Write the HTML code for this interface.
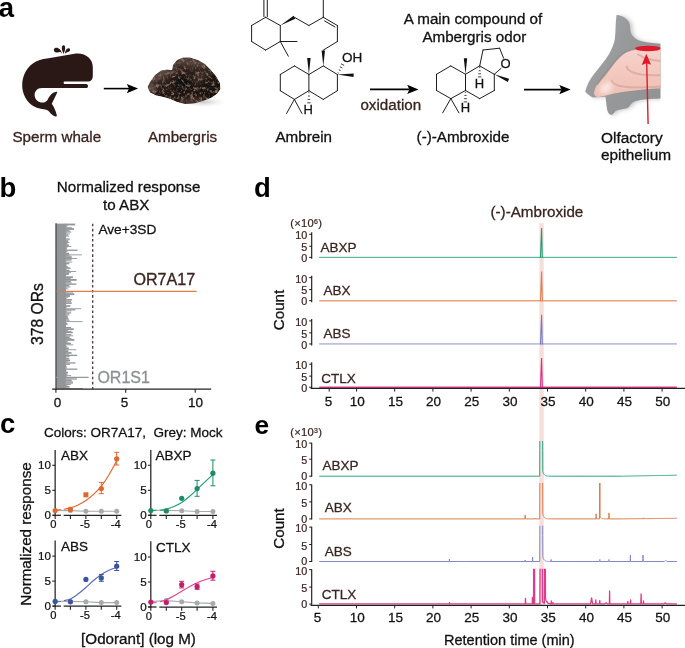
<!DOCTYPE html>
<html><head><meta charset="utf-8"><title>Figure</title>
<style>
html,body{margin:0;padding:0;background:#fff;}
body{width:685px;height:648px;overflow:hidden;}
svg{display:block;font-family:"Liberation Sans", sans-serif;}
svg text{white-space:pre;}
</style></head><body>
<svg width="685" height="648" viewBox="0 0 685 648">
<rect width="685" height="648" fill="#fff"/>
<text x="-1.2" y="16.9" font-size="27.5" fill="#000" stroke="#000" stroke-width="0" text-anchor="start" font-weight="bold" >a</text>
<text x="-0.6" y="196.6" font-size="27.5" fill="#000" stroke="#000" stroke-width="0" text-anchor="start" font-weight="bold" >b</text>
<text x="0" y="432.8" font-size="27.5" fill="#000" stroke="#000" stroke-width="0" text-anchor="start" font-weight="bold" >c</text>
<text x="253.9" y="196.6" font-size="27.5" fill="#000" stroke="#000" stroke-width="0" text-anchor="start" font-weight="bold" >d</text>
<text x="254.4" y="433.7" font-size="26.3" fill="#000" stroke="#000" stroke-width="0" text-anchor="start" font-weight="bold" >e</text>
<g fill="#2a1816">
<path d="M22.2,85 C22.2,76 27,66 36,61.5 C41,59 46,58.6 50,58 L74.5,53.8 C84,52 92.8,58 92.8,67 L92.8,76 C92.8,79.5 91,81.5 87.5,81.5 L64.5,81.5 C63.3,81.5 63.3,83.9 64.5,83.9 L86,83.9 C88.8,83.9 88.8,88 86,88 L42,88 C37,88 34.6,91.5 34.6,95 C34.6,99.5 38.5,102.6 42.5,102.6 C45,102.6 46.5,101.5 47.5,100 C49.5,96.5 51.5,92.5 56.4,91.8 C57.2,91.7 57.3,92.3 57,93 C55.5,96.5 53.5,100 51.8,103.7 C54,107 56,111 56.8,115.2 C57,116.3 56.2,116.8 55.2,116.4 C51.5,115 50,112.5 48,110.5 C46.5,109.6 44.5,109.3 42,109 C30,107.5 22.2,97 22.2,85 Z"/>
<path d="M63.6,54 C62.8,51.5 61.3,49.5 61.9,47 C62.4,44.9 64.3,44.5 65,46.5 C65.8,49 64.4,51.5 63.6,54 Z"/>
<path d="M61.9,54 C61,51.6 60,51.6 57.5,52.4 C55,53.1 53.1,51 54,49.1 C55,47.2 58,47.2 59.8,49.3 C61.2,50.8 61.7,52 61.9,54 Z"/>
<path d="M64.9,54 C64.9,51.8 65.6,50 66.8,48.9 C68.2,47.6 70.3,48.2 70.1,50 C69.9,51.7 68,52 66.8,52.4 C65.8,52.7 65.3,53.1 64.9,54 Z"/>
</g>
<text x="56.8" y="142.1" font-size="15.2" fill="#3a2420" stroke="#3a2420" stroke-width="0.3" text-anchor="middle" font-weight="normal" >Sperm whale</text>
<line x1="103.8" y1="88.6" x2="129.3" y2="88.6" stroke="#000" stroke-width="1.6" />
<path d="M138.1,88.6 L126.8,84.0 L129.0,88.6 L126.8,93.19999999999999 Z" fill="#000"/>
<defs>
<filter id="rk" x="-5%" y="-5%" width="110%" height="110%" color-interpolation-filters="sRGB">
<feTurbulence type="fractalNoise" baseFrequency="0.32" numOctaves="3" seed="7" result="n"/>
<feColorMatrix in="n" type="matrix" values="0 0 0 0 0.56  0 0 0 0 0.46  0 0 0 0 0.40  3.4 0 0 0 -1.65" result="c"/>
<feComposite in="c" in2="SourceGraphic" operator="in" result="cc"/>
<feMerge><feMergeNode in="SourceGraphic"/><feMergeNode in="cc"/></feMerge>
<feGaussianBlur stdDeviation="0.45"/>
</filter>
<radialGradient id="rkg" cx="0.42" cy="0.38" r="0.7">
<stop offset="0" stop-color="#33251f"/><stop offset="0.55" stop-color="#231814"/><stop offset="1" stop-color="#140d0b"/>
</radialGradient>
<filter id="bl4" x="-30%" y="-30%" width="160%" height="160%"><feGaussianBlur stdDeviation="1.0"/></filter><filter id="bl3" x="-30%" y="-30%" width="160%" height="160%"><feGaussianBlur stdDeviation="2.2"/></filter><radialGradient id="rks" cx="0.5" cy="0.5" r="0.5"><stop offset="0" stop-color="#999" stop-opacity="0.55"/><stop offset="1" stop-color="#ccc" stop-opacity="0"/></radialGradient>
</defs>
<ellipse cx="203" cy="102" rx="22" ry="5" fill="url(#rks)"/>
<clipPath id="rkc"><polygon points="147.5,87 150,82 155,75 161,70.5 167,69.5 172,70 173,65 177,60 183,57.5 190,57.5 198,60 205,64 211,70 216,76 220,83 220.5,89 217,94 211,98 203,101 194,103.5 185,104 177,102 170,99 163,97 156,95.5 150,92.5"/></clipPath>
<g filter="url(#rk)"><g clip-path="url(#rkc)">
<polygon points="147.5,87 150,82 155,75 161,70.5 167,69.5 172,70 173,65 177,60 183,57.5 190,57.5 198,60 205,64 211,70 216,76 220,83 220.5,89 217,94 211,98 203,101 194,103.5 185,104 177,102 170,99 163,97 156,95.5 150,92.5" fill="url(#rkg)"/>
<g filter="url(#bl3)">
<ellipse cx="160" cy="76" rx="11" ry="4.5" fill="#6e564b" opacity="0.55" transform="rotate(-25 160 76)"/>
<ellipse cx="190" cy="63" rx="15" ry="5" fill="#6a5449" opacity="0.5" transform="rotate(12 190 63)"/>
<ellipse cx="152" cy="89" rx="5" ry="4" fill="#8a756a" opacity="0.6"/>
<ellipse cx="192" cy="101" rx="16" ry="2.5" fill="#5c463c" opacity="0.8" transform="rotate(-6 192 101)"/>
<path d="M148.5,90 L149,86 L151,81 L156,75.5 L162,71.5 L168,70.5 L173,71 L174,66 L178,61 L184,58.5 L190,58.5 L198,61 L205,65 L211,71" fill="none" stroke="#9a857a" stroke-width="2.2" opacity="0.6" filter="url(#bl4)"/>
<ellipse cx="203" cy="78" rx="9" ry="6" fill="#5d483f" opacity="0.35"/>
<ellipse cx="183" cy="83" rx="11" ry="8" fill="#0e0908" opacity="0.85"/>
<ellipse cx="209" cy="85" rx="9" ry="9" fill="#140d0c" opacity="0.6"/>
</g></g></g>
<text x="182.5" y="141.6" font-size="15.2" fill="#3a2420" stroke="#3a2420" stroke-width="0.3" text-anchor="middle" font-weight="normal" >Ambergris</text>
<line x1="265.6" y1="17.3" x2="280.3" y2="25.5" stroke="#111" stroke-width="0.95" stroke-linecap="round"/>
<line x1="280.3" y1="25.5" x2="280.3" y2="41.5" stroke="#111" stroke-width="0.95" stroke-linecap="round"/>
<line x1="280.3" y1="41.5" x2="265.6" y2="50.1" stroke="#111" stroke-width="0.95" stroke-linecap="round"/>
<line x1="265.6" y1="50.1" x2="251.6" y2="41.5" stroke="#111" stroke-width="0.95" stroke-linecap="round"/>
<line x1="251.6" y1="41.5" x2="251.6" y2="25.5" stroke="#111" stroke-width="0.95" stroke-linecap="round"/>
<line x1="251.6" y1="25.5" x2="265.6" y2="17.3" stroke="#111" stroke-width="0.95" stroke-linecap="round"/>
<line x1="263.9" y1="16.6" x2="263.9" y2="0" stroke="#111" stroke-width="0.95" stroke-linecap="round"/>
<line x1="267.3" y1="16.6" x2="267.3" y2="0" stroke="#111" stroke-width="0.95" stroke-linecap="round"/>
<line x1="280.3" y1="41.5" x2="297" y2="41.5" stroke="#111" stroke-width="0.95" stroke-linecap="round"/>
<line x1="280.3" y1="41.5" x2="288.3" y2="56.2" stroke="#111" stroke-width="0.95" stroke-linecap="round"/>
<path d="M280.3,25.5 L295.25,18.77 L293.55,15.83 Z" fill="#111"/>
<line x1="294.4" y1="17.3" x2="308.9" y2="25.5" stroke="#111" stroke-width="0.95" stroke-linecap="round"/>
<line x1="308.9" y1="25.5" x2="323.3" y2="17.3" stroke="#111" stroke-width="0.95" stroke-linecap="round"/>
<line x1="323.3" y1="17.3" x2="337.4" y2="25.5" stroke="#111" stroke-width="0.95" stroke-linecap="round"/>
<line x1="337.4" y1="25.5" x2="337.4" y2="41.5" stroke="#111" stroke-width="0.95" stroke-linecap="round"/>
<line x1="337.4" y1="41.5" x2="323.3" y2="50.1" stroke="#111" stroke-width="0.95" stroke-linecap="round"/>
<line x1="323.3" y1="17.3" x2="323.3" y2="0" stroke="#111" stroke-width="0.95" stroke-linecap="round"/>
<line x1="324.6" y1="20.9" x2="335.0" y2="27.0" stroke="#111" stroke-width="0.95" stroke-linecap="round"/>
<path d="M323.3,65.9 L325.00,50.60 L321.60,50.60 Z" fill="#111"/>
<line x1="323.3" y1="65.9" x2="337.4" y2="74.5" stroke="#111" stroke-width="0.95" stroke-linecap="round"/>
<line x1="337.4" y1="74.5" x2="337.4" y2="90.7" stroke="#111" stroke-width="0.95" stroke-linecap="round"/>
<line x1="337.4" y1="90.7" x2="323.3" y2="99.4" stroke="#111" stroke-width="0.95" stroke-linecap="round"/>
<line x1="323.3" y1="99.4" x2="308.9" y2="90.7" stroke="#111" stroke-width="0.95" stroke-linecap="round"/>
<line x1="308.9" y1="90.7" x2="308.9" y2="74.5" stroke="#111" stroke-width="0.95" stroke-linecap="round"/>
<line x1="308.9" y1="74.5" x2="323.3" y2="65.9" stroke="#111" stroke-width="0.95" stroke-linecap="round"/>
<line x1="308.9" y1="74.5" x2="294.4" y2="65.9" stroke="#111" stroke-width="0.95" stroke-linecap="round"/>
<line x1="294.4" y1="65.9" x2="280.3" y2="74.5" stroke="#111" stroke-width="0.95" stroke-linecap="round"/>
<line x1="280.3" y1="74.5" x2="280.3" y2="90.7" stroke="#111" stroke-width="0.95" stroke-linecap="round"/>
<line x1="280.3" y1="90.7" x2="294.4" y2="99.4" stroke="#111" stroke-width="0.95" stroke-linecap="round"/>
<line x1="294.4" y1="99.4" x2="308.9" y2="90.7" stroke="#111" stroke-width="0.95" stroke-linecap="round"/>
<path d="M308.9,74.5 L310.60,57.90 L307.20,57.90 Z" fill="#111"/>
<line x1="337.72" y1="72.65" x2="338.74" y2="73.18" stroke="#111" stroke-width="0.8" />
<line x1="338.83" y1="69.69" x2="340.54" y2="70.59" stroke="#111" stroke-width="0.8" />
<line x1="339.94" y1="66.74" x2="342.35" y2="68.0" stroke="#111" stroke-width="0.8" />
<line x1="341.05" y1="63.79" x2="344.15" y2="65.41" stroke="#111" stroke-width="0.8" />
<text x="342.0" y="62.0" font-size="13.5" fill="#111" stroke="#111" stroke-width="0.27" text-anchor="start" font-weight="normal" >OH</text>
<path d="M337.4,74.5 L353.53,76.90 L353.67,73.50 Z" fill="#111"/>
<line x1="309.47" y1="92.64" x2="308.33" y2="92.64" stroke="#111" stroke-width="0.8" />
<line x1="309.87" y1="96.02" x2="307.93" y2="96.02" stroke="#111" stroke-width="0.8" />
<line x1="310.26" y1="99.41" x2="307.54" y2="99.41" stroke="#111" stroke-width="0.8" />
<line x1="310.65" y1="102.8" x2="307.15" y2="102.8" stroke="#111" stroke-width="0.8" />
<text x="308.3" y="114" font-size="13" fill="#111" stroke="#111" stroke-width="0.26" text-anchor="middle" font-weight="normal" >H</text>
<line x1="294.4" y1="99.4" x2="286.6" y2="113.4" stroke="#111" stroke-width="0.95" stroke-linecap="round"/>
<line x1="294.4" y1="99.4" x2="301.9" y2="113.4" stroke="#111" stroke-width="0.95" stroke-linecap="round"/>
<text x="303.7" y="141.6" font-size="15.2" fill="#111" stroke="#111" stroke-width="0.3" text-anchor="middle" font-weight="normal" >Ambrein</text>
<line x1="370" y1="89.4" x2="409.7" y2="89.4" stroke="#000" stroke-width="1.6" />
<path d="M418.5,89.4 L407.2,84.80000000000001 L409.4,89.4 L407.2,94.0 Z" fill="#000"/>
<text x="390.8" y="110.4" font-size="15.2" fill="#3a2420" stroke="#3a2420" stroke-width="0.3" text-anchor="middle" font-weight="normal" >oxidation</text>
<text x="473" y="24" font-size="15.2" fill="#111" stroke="#111" stroke-width="0.3" text-anchor="middle" font-weight="normal" >A main compound of</text>
<text x="474.3" y="41.6" font-size="15.2" fill="#111" stroke="#111" stroke-width="0.3" text-anchor="middle" font-weight="normal" >Ambergris odor</text>
<line x1="436.5" y1="74.3" x2="436.5" y2="90.5" stroke="#111" stroke-width="0.95" stroke-linecap="round"/>
<line x1="436.5" y1="90.5" x2="450.8" y2="98.6" stroke="#111" stroke-width="0.95" stroke-linecap="round"/>
<line x1="450.8" y1="98.6" x2="465.5" y2="90.5" stroke="#111" stroke-width="0.95" stroke-linecap="round"/>
<line x1="465.5" y1="90.5" x2="465.5" y2="74.3" stroke="#111" stroke-width="0.95" stroke-linecap="round"/>
<line x1="465.5" y1="74.3" x2="450.8" y2="65.9" stroke="#111" stroke-width="0.95" stroke-linecap="round"/>
<line x1="450.8" y1="65.9" x2="436.5" y2="74.3" stroke="#111" stroke-width="0.95" stroke-linecap="round"/>
<line x1="465.5" y1="74.3" x2="479.7" y2="65.9" stroke="#111" stroke-width="0.95" stroke-linecap="round"/>
<line x1="479.7" y1="65.9" x2="494.3" y2="74.3" stroke="#111" stroke-width="0.95" stroke-linecap="round"/>
<line x1="494.3" y1="74.3" x2="494.3" y2="90.5" stroke="#111" stroke-width="0.95" stroke-linecap="round"/>
<line x1="494.3" y1="90.5" x2="479.7" y2="98.6" stroke="#111" stroke-width="0.95" stroke-linecap="round"/>
<line x1="479.7" y1="98.6" x2="465.5" y2="90.5" stroke="#111" stroke-width="0.95" stroke-linecap="round"/>
<line x1="479.7" y1="65.9" x2="483.0" y2="50" stroke="#111" stroke-width="0.95" stroke-linecap="round"/>
<line x1="483.0" y1="50" x2="499.6" y2="48.2" stroke="#111" stroke-width="0.95" stroke-linecap="round"/>
<line x1="499.6" y1="48.2" x2="503.6" y2="58.2" stroke="#111" stroke-width="0.95" stroke-linecap="round"/>
<line x1="501.0" y1="68.4" x2="494.3" y2="74.3" stroke="#111" stroke-width="0.95" stroke-linecap="round"/>
<text x="505.5" y="68.0" font-size="13" fill="#111" stroke="#111" stroke-width="0.26" text-anchor="middle" font-weight="normal" >O</text>
<path d="M465.5,74.3 L467.20,58.20 L463.80,58.20 Z" fill="#111"/>
<path d="M494.3,74.3 L507.72,81.96 L509.08,78.84 Z" fill="#111"/>
<line x1="480.27" y1="67.66" x2="479.13" y2="67.66" stroke="#111" stroke-width="0.8" />
<line x1="480.67" y1="70.74" x2="478.73" y2="70.74" stroke="#111" stroke-width="0.8" />
<line x1="481.06" y1="73.82" x2="478.34" y2="73.82" stroke="#111" stroke-width="0.8" />
<line x1="481.45" y1="76.9" x2="477.95" y2="76.9" stroke="#111" stroke-width="0.8" />
<text x="479.5" y="87.5" font-size="13" fill="#111" stroke="#111" stroke-width="0.26" text-anchor="middle" font-weight="normal" >H</text>
<line x1="466.07" y1="92.32" x2="464.93" y2="92.32" stroke="#111" stroke-width="0.8" />
<line x1="466.47" y1="95.52" x2="464.53" y2="95.52" stroke="#111" stroke-width="0.8" />
<line x1="466.86" y1="98.71" x2="464.14" y2="98.71" stroke="#111" stroke-width="0.8" />
<line x1="467.25" y1="101.9" x2="463.75" y2="101.9" stroke="#111" stroke-width="0.8" />
<text x="465.4" y="112.2" font-size="13" fill="#111" stroke="#111" stroke-width="0.26" text-anchor="middle" font-weight="normal" >H</text>
<line x1="450.8" y1="98.6" x2="442.7" y2="112.8" stroke="#111" stroke-width="0.95" stroke-linecap="round"/>
<line x1="450.8" y1="98.6" x2="458.9" y2="112.8" stroke="#111" stroke-width="0.95" stroke-linecap="round"/>
<text x="463" y="141.6" font-size="15.2" fill="#111" stroke="#111" stroke-width="0.3" text-anchor="middle" font-weight="normal" >(-)-Ambroxide</text>
<line x1="524" y1="89.6" x2="561.8000000000001" y2="89.6" stroke="#000" stroke-width="1.6" />
<path d="M570.6,89.6 L559.3000000000001,85.0 L561.5000000000001,89.6 L559.3000000000001,94.19999999999999 Z" fill="#000"/>
<defs>
<linearGradient id="pk" x1="0" y1="0" x2="0" y2="1"><stop offset="0" stop-color="#f6d3cb"/><stop offset="0.6" stop-color="#f3c6bc"/><stop offset="1" stop-color="#eec0b6"/></linearGradient>
<filter id="bl"><feGaussianBlur stdDeviation="0.7"/></filter><filter id="bl2" x="-50%" y="-50%" width="200%" height="200%"><feGaussianBlur stdDeviation="2"/></filter><linearGradient id="gy" x1="0" y1="0" x2="1" y2="0.6"><stop offset="0" stop-color="#a6a7a9"/><stop offset="0.5" stop-color="#98999b"/><stop offset="1" stop-color="#929395"/></linearGradient>
<clipPath id="nc"><rect x="580" y="10" width="80.4" height="110"/></clipPath>
</defs>
<g clip-path="url(#nc)">
<path d="M616.6,14.8 C622,15.5 628,19 629.5,23 C630.5,27 630,30 631,33 C633,38 638,40.5 643,41.5 C650,43 656,43.5 661,43.7 L661,98.4 C655,98.6 650,98.8 646.3,99.2 C640,100 636,100.5 632.7,102.6 C630,105 629,108 626,108.6 C622,109.4 619,109.5 615.7,111 C614,112.5 613,115 611.5,115 C609.5,115 608,113 607.3,110.3 C606.5,106 606,101 605.6,96.7 L592.8,97.5 C590,96 587,94 585.2,91.6 C587,85 590,79.5 593.7,74.6 C599,67.5 605,61 609,54.2 C612,49 614,44 614.9,39 C615.8,31 615.5,22 616.6,14.8 Z" fill="#8a8b8d" opacity="0.45" filter="url(#bl2)" transform="translate(2.5,0.5)"/>
<path d="M616.6,14.8 C622,15.5 628,19 629.5,23 C630.5,27 630,30 631,33 C633,38 638,40.5 643,41.5 C650,43 656,43.5 661,43.7 L661,98.4 C655,98.6 650,98.8 646.3,99.2 C640,100 636,100.5 632.7,102.6 C630,105 629,108 626,108.6 C622,109.4 619,109.5 615.7,111 C614,112.5 613,115 611.5,115 C609.5,115 608,113 607.3,110.3 C606.5,106 606,101 605.6,96.7 L592.8,97.5 C590,96 587,94 585.2,91.6 C587,85 590,79.5 593.7,74.6 C599,67.5 605,61 609,54.2 C612,49 614,44 614.9,39 C615.8,31 615.5,22 616.6,14.8 Z" fill="url(#gy)"/>
<path d="M636,49 C630,50 626,51.5 622.5,54.2 C617,58.5 613,64 609,69.5 C605,75 600,80 597,84.8 C595,88.5 593.5,92.5 594.5,95 C596,97.5 598.5,97.2 600.5,96.7 C609,95 617,92.8 626,91.6 C637,90 649,88.8 661,88.2 L661,49 Z" fill="url(#pk)"/>
<path d="M636,49 C630,50 626,51.5 622.5,54.2 C617,58.5 613,64 609,69.5 C605,75 600,80 597,84.8" fill="none" stroke="#7d7e80" stroke-width="1.6" opacity="0.55" filter="url(#bl)"/>
<g fill="none" stroke="#dca9a0" stroke-width="1.9" opacity="0.85" filter="url(#bl)">
<path d="M637.5,54 C643,58 652,60.5 661,61"/>
<path d="M626.5,66 C628,73 640,76 661,75"/>
<path d="M611.5,80 C613,87.5 628,88.5 661,86.5"/>
</g>
<ellipse cx="606" cy="88" rx="7" ry="5" fill="#fff" opacity="0.55" filter="url(#bl2)" transform="rotate(-40 606 88)"/>
<ellipse cx="648" cy="48.5" rx="12.8" ry="2.7" fill="#de1a2d"/>
</g>
<line x1="648.1" y1="124" x2="646.7" y2="62" stroke="#de1a2d" stroke-width="1.4" />
<path d="M646.3,53.8 L651.1,64.8 L646.7,63.2 L641.7,65 Z" fill="#de1a2d"/>
<text x="601" y="143" font-size="15.4" fill="#111" stroke="#111" stroke-width="0.3" text-anchor="start" font-weight="normal" >Olfactory</text>
<text x="601" y="160" font-size="15.4" fill="#111" stroke="#111" stroke-width="0.3" text-anchor="start" font-weight="normal" >epithelium</text>
<text x="128.6" y="191.6" font-size="15.2" fill="#111" stroke="#111" stroke-width="0.3" text-anchor="middle" font-weight="normal" >Normalized response</text>
<text x="126.2" y="209.6" font-size="15.2" fill="#111" stroke="#111" stroke-width="0.3" text-anchor="middle" font-weight="normal" >to ABX</text>
<text transform="translate(43.3,314.1) rotate(-90)" font-size="15.7" fill="#111" stroke="#111" stroke-width="0.31" text-anchor="middle">378 ORs</text>
<rect x="55.9" y="223.6" width="9.8" height="165.4" fill="#939598"/>
<rect x="64.9" y="223.6" width="10.3" height="1.8" fill="#939598"/>
<rect x="64.9" y="225.4" width="3.0" height="0.9" fill="#939598"/>
<rect x="64.9" y="226.3" width="2.2" height="0.9" fill="#939598"/>
<rect x="64.9" y="227.2" width="6.9" height="0.9" fill="#939598"/>
<rect x="64.9" y="228.1" width="9.1" height="1.8" fill="#939598"/>
<rect x="64.9" y="229.9" width="4.4" height="0.9" fill="#939598"/>
<rect x="64.9" y="230.8" width="5.6" height="0.9" fill="#939598"/>
<rect x="64.9" y="231.7" width="6.3" height="0.9" fill="#939598"/>
<rect x="64.9" y="232.6" width="2.1" height="0.9" fill="#939598"/>
<rect x="64.9" y="233.5" width="5.2" height="0.9" fill="#939598"/>
<rect x="64.9" y="234.4" width="3.2" height="1.3" fill="#939598"/>
<rect x="64.9" y="235.7" width="4.4" height="0.9" fill="#939598"/>
<rect x="64.9" y="236.6" width="1.1" height="1.8" fill="#939598"/>
<rect x="64.9" y="238.4" width="4.7" height="0.9" fill="#939598"/>
<rect x="64.9" y="239.3" width="4.9" height="0.9" fill="#939598"/>
<rect x="64.9" y="240.2" width="3.3" height="1.8" fill="#939598"/>
<rect x="64.9" y="242.0" width="4.6" height="0.9" fill="#939598"/>
<rect x="64.9" y="242.9" width="2.6" height="1.3" fill="#939598"/>
<rect x="64.9" y="244.2" width="3.8" height="0.9" fill="#939598"/>
<rect x="64.9" y="245.1" width="4.2" height="0.9" fill="#939598"/>
<rect x="64.9" y="246.0" width="6.4" height="0.9" fill="#939598"/>
<rect x="64.9" y="246.9" width="2.5" height="0.9" fill="#939598"/>
<rect x="64.9" y="247.8" width="1.9" height="1.8" fill="#939598"/>
<rect x="64.9" y="249.6" width="12.6" height="1.3" fill="#939598"/>
<rect x="64.9" y="250.9" width="2.6" height="0.9" fill="#939598"/>
<rect x="64.9" y="251.8" width="1.6" height="0.9" fill="#939598"/>
<rect x="64.9" y="252.7" width="4.1" height="1.8" fill="#939598"/>
<rect x="64.9" y="254.5" width="4.6" height="1.3" fill="#939598"/>
<rect x="64.9" y="255.8" width="6.8" height="0.9" fill="#939598"/>
<rect x="64.9" y="256.7" width="6.7" height="1.3" fill="#939598"/>
<rect x="64.9" y="258.0" width="12.2" height="0.9" fill="#939598"/>
<rect x="64.9" y="258.9" width="6.9" height="0.9" fill="#939598"/>
<rect x="64.9" y="259.8" width="6.3" height="0.9" fill="#939598"/>
<rect x="64.9" y="260.7" width="1.4" height="0.9" fill="#939598"/>
<rect x="64.9" y="261.6" width="7.3" height="0.9" fill="#939598"/>
<rect x="64.9" y="262.5" width="4.3" height="1.8" fill="#939598"/>
<rect x="64.9" y="264.3" width="1.7" height="1.8" fill="#939598"/>
<rect x="64.9" y="266.1" width="2.9" height="0.9" fill="#939598"/>
<rect x="64.9" y="267.0" width="4.6" height="0.9" fill="#939598"/>
<rect x="64.9" y="267.9" width="6.0" height="0.9" fill="#939598"/>
<rect x="64.9" y="268.8" width="1.7" height="0.9" fill="#939598"/>
<rect x="64.9" y="269.7" width="4.6" height="1.3" fill="#939598"/>
<rect x="64.9" y="271.0" width="11.3" height="0.9" fill="#939598"/>
<rect x="64.9" y="271.9" width="6.2" height="0.9" fill="#939598"/>
<rect x="64.9" y="272.8" width="4.3" height="1.3" fill="#939598"/>
<rect x="64.9" y="274.1" width="3.9" height="0.9" fill="#939598"/>
<rect x="64.9" y="275.0" width="1.3" height="1.3" fill="#939598"/>
<rect x="64.9" y="276.3" width="8.0" height="1.8" fill="#939598"/>
<rect x="64.9" y="278.1" width="5.7" height="0.9" fill="#939598"/>
<rect x="64.9" y="279.0" width="11.7" height="1.8" fill="#939598"/>
<rect x="64.9" y="280.8" width="5.9" height="1.8" fill="#939598"/>
<rect x="64.9" y="282.6" width="6.9" height="0.9" fill="#939598"/>
<rect x="64.9" y="283.5" width="11.5" height="1.3" fill="#939598"/>
<rect x="64.9" y="284.8" width="4.3" height="1.8" fill="#939598"/>
<rect x="64.9" y="286.6" width="5.6" height="0.9" fill="#939598"/>
<rect x="64.9" y="287.5" width="1.9" height="0.9" fill="#939598"/>
<rect x="64.9" y="288.4" width="3.4" height="0.9" fill="#939598"/>
<rect x="64.9" y="289.3" width="1.1" height="1.8" fill="#939598"/>
<rect x="64.9" y="291.1" width="3.4" height="1.3" fill="#939598"/>
<rect x="64.9" y="292.4" width="8.1" height="0.9" fill="#939598"/>
<rect x="64.9" y="293.3" width="9.3" height="1.8" fill="#939598"/>
<rect x="64.9" y="295.1" width="5.1" height="1.8" fill="#939598"/>
<rect x="64.9" y="296.9" width="3.3" height="0.9" fill="#939598"/>
<rect x="64.9" y="297.8" width="1.6" height="1.3" fill="#939598"/>
<rect x="64.9" y="299.1" width="7.2" height="1.3" fill="#939598"/>
<rect x="64.9" y="300.4" width="6.2" height="1.3" fill="#939598"/>
<rect x="64.9" y="301.7" width="6.4" height="0.9" fill="#939598"/>
<rect x="64.9" y="302.6" width="6.9" height="1.3" fill="#939598"/>
<rect x="64.9" y="303.9" width="1.2" height="1.3" fill="#939598"/>
<rect x="64.9" y="305.2" width="5.7" height="0.9" fill="#939598"/>
<rect x="64.9" y="306.1" width="5.0" height="0.9" fill="#939598"/>
<rect x="64.9" y="307.0" width="1.6" height="1.3" fill="#939598"/>
<rect x="64.9" y="308.3" width="16.2" height="0.9" fill="#939598"/>
<rect x="64.9" y="309.2" width="10.4" height="1.3" fill="#939598"/>
<rect x="64.9" y="310.5" width="6.5" height="0.9" fill="#939598"/>
<rect x="64.9" y="311.4" width="2.1" height="0.9" fill="#939598"/>
<rect x="64.9" y="312.3" width="6.3" height="1.3" fill="#939598"/>
<rect x="64.9" y="313.6" width="4.1" height="0.9" fill="#939598"/>
<rect x="64.9" y="314.5" width="4.7" height="0.9" fill="#939598"/>
<rect x="64.9" y="315.4" width="2.8" height="1.8" fill="#939598"/>
<rect x="64.9" y="317.2" width="3.3" height="0.9" fill="#939598"/>
<rect x="64.9" y="318.1" width="3.6" height="1.3" fill="#939598"/>
<rect x="64.9" y="319.4" width="4.4" height="0.9" fill="#939598"/>
<rect x="64.9" y="320.3" width="4.6" height="0.9" fill="#939598"/>
<rect x="64.9" y="321.2" width="17.7" height="0.9" fill="#939598"/>
<rect x="64.9" y="322.1" width="1.4" height="0.9" fill="#939598"/>
<rect x="64.9" y="323.0" width="2.7" height="1.8" fill="#939598"/>
<rect x="64.9" y="324.8" width="1.2" height="1.3" fill="#939598"/>
<rect x="64.9" y="326.1" width="1.2" height="0.9" fill="#939598"/>
<rect x="64.9" y="327.0" width="6.2" height="1.3" fill="#939598"/>
<rect x="64.9" y="328.3" width="8.8" height="1.8" fill="#939598"/>
<rect x="64.9" y="330.1" width="3.2" height="0.9" fill="#939598"/>
<rect x="64.9" y="331.0" width="6.6" height="0.9" fill="#939598"/>
<rect x="64.9" y="331.9" width="7.9" height="1.3" fill="#939598"/>
<rect x="64.9" y="333.2" width="1.6" height="0.9" fill="#939598"/>
<rect x="64.9" y="334.1" width="6.5" height="1.3" fill="#939598"/>
<rect x="64.9" y="335.4" width="8.3" height="0.9" fill="#939598"/>
<rect x="64.9" y="336.3" width="4.8" height="1.8" fill="#939598"/>
<rect x="64.9" y="338.1" width="6.5" height="0.9" fill="#939598"/>
<rect x="64.9" y="339.0" width="9.5" height="1.8" fill="#939598"/>
<rect x="64.9" y="340.8" width="2.7" height="1.8" fill="#939598"/>
<rect x="64.9" y="342.6" width="6.0" height="1.8" fill="#939598"/>
<rect x="64.9" y="344.4" width="8.5" height="0.9" fill="#939598"/>
<rect x="64.9" y="345.3" width="1.1" height="0.9" fill="#939598"/>
<rect x="64.9" y="346.2" width="2.4" height="1.3" fill="#939598"/>
<rect x="64.9" y="347.5" width="3.9" height="1.8" fill="#939598"/>
<rect x="64.9" y="349.3" width="11.4" height="0.9" fill="#939598"/>
<rect x="64.9" y="350.2" width="3.5" height="1.8" fill="#939598"/>
<rect x="64.9" y="352.0" width="6.5" height="0.9" fill="#939598"/>
<rect x="64.9" y="352.9" width="6.8" height="0.9" fill="#939598"/>
<rect x="64.9" y="353.8" width="3.9" height="0.9" fill="#939598"/>
<rect x="64.9" y="354.7" width="12.3" height="1.3" fill="#939598"/>
<rect x="64.9" y="356.0" width="4.7" height="0.9" fill="#939598"/>
<rect x="64.9" y="356.9" width="1.4" height="0.9" fill="#939598"/>
<rect x="64.9" y="357.8" width="4.3" height="1.8" fill="#939598"/>
<rect x="64.9" y="359.6" width="5.1" height="1.8" fill="#939598"/>
<rect x="64.9" y="361.4" width="3.3" height="0.9" fill="#939598"/>
<rect x="64.9" y="362.3" width="10.6" height="1.3" fill="#939598"/>
<rect x="64.9" y="363.6" width="5.0" height="1.3" fill="#939598"/>
<rect x="64.9" y="364.9" width="1.1" height="0.9" fill="#939598"/>
<rect x="64.9" y="365.8" width="1.8" height="1.8" fill="#939598"/>
<rect x="64.9" y="367.6" width="1.7" height="0.9" fill="#939598"/>
<rect x="64.9" y="368.5" width="12.4" height="1.3" fill="#939598"/>
<rect x="64.9" y="369.8" width="1.4" height="1.8" fill="#939598"/>
<rect x="64.9" y="371.6" width="3.1" height="1.8" fill="#939598"/>
<rect x="64.9" y="373.4" width="2.5" height="1.8" fill="#939598"/>
<rect x="64.9" y="375.2" width="6.2" height="0.9" fill="#939598"/>
<rect x="64.9" y="376.1" width="1.8" height="1.3" fill="#939598"/>
<rect x="64.9" y="377.4" width="4.1" height="0.9" fill="#939598"/>
<rect x="64.9" y="378.3" width="12.0" height="1.3" fill="#939598"/>
<rect x="64.9" y="379.6" width="6.7" height="1.8" fill="#939598"/>
<rect x="64.9" y="381.4" width="8.1" height="1.3" fill="#939598"/>
<rect x="64.9" y="382.7" width="8.0" height="0.9" fill="#939598"/>
<rect x="64.9" y="383.6" width="6.0" height="1.3" fill="#939598"/>
<rect x="64.9" y="384.9" width="2.4" height="0.9" fill="#939598"/>
<rect x="64.9" y="385.8" width="4.5" height="1.8" fill="#939598"/>
<rect x="64.9" y="387.6" width="4.7" height="0.9" fill="#939598"/>
<rect x="64.9" y="388.5" width="3.6" height="0.5000000000003979" fill="#939598"/>
<rect x="55.9" y="254.4" width="26" height="0.9" fill="#939598"/>
<rect x="55.9" y="388" width="27" height="0.9" fill="#939598"/>
<line x1="56.0" y1="223.2" x2="56.0" y2="389.7" stroke="#4d4d4f" stroke-width="1.3" />
<line x1="52.1" y1="389.1" x2="211.2" y2="389.1" stroke="#222" stroke-width="1.2" />
<line x1="55.9" y1="389.1" x2="55.9" y2="392.8" stroke="#222" stroke-width="1.1" />
<text x="57.4" y="407.2" font-size="13.5" fill="#111" stroke="#111" stroke-width="0.27" text-anchor="middle" font-weight="normal" >0</text>
<line x1="125.7" y1="389.1" x2="125.7" y2="392.8" stroke="#222" stroke-width="1.1" />
<text x="124.6" y="407.2" font-size="13.5" fill="#111" stroke="#111" stroke-width="0.27" text-anchor="middle" font-weight="normal" >5</text>
<line x1="195.2" y1="389.1" x2="195.2" y2="392.8" stroke="#222" stroke-width="1.1" />
<text x="195.6" y="407.2" font-size="13.5" fill="#111" stroke="#111" stroke-width="0.27" text-anchor="middle" font-weight="normal" >10</text>
<line x1="92.7" y1="223.7" x2="92.7" y2="389" stroke="#4a3634" stroke-width="1.3" stroke-dasharray="2.6 2.5"/>
<text x="98.4" y="234.3" font-size="13.7" fill="#111" stroke="#111" stroke-width="0.27" text-anchor="start" font-weight="normal" >Ave+3SD</text>
<line x1="66.5" y1="291.4" x2="196.6" y2="291.4" stroke="#e07b4a" stroke-width="1.4" />
<line x1="56" y1="291.4" x2="67" y2="291.4" stroke="#e07b4a" stroke-width="0.5" />
<text x="133.4" y="285.2" font-size="16.1" fill="#3a2420" stroke="#3a2420" stroke-width="0.32" text-anchor="start" font-weight="normal" >OR7A17</text>
<line x1="55.9" y1="377.4" x2="88.6" y2="377.4" stroke="#939598" stroke-width="1.1" />
<text x="97.4" y="383" font-size="16" fill="#8e9092" stroke="#8e9092" stroke-width="0.32" text-anchor="start" font-weight="normal" >OR1S1</text>
<text x="44.0" y="437" font-size="13.5" fill="#111" stroke="#111" stroke-width="0.27" text-anchor="start" font-weight="normal" >Colors: OR7A17,  Grey: Mock</text>
<text transform="translate(30.8,534.0) rotate(-90)" font-size="15.2" fill="#111" stroke="#111" stroke-width="0.3" text-anchor="middle">Normalized response</text>
<text x="138.5" y="644.4" font-size="15.2" fill="#111" stroke="#111" stroke-width="0.3" text-anchor="middle" font-weight="normal" >[Odorant] (log M)</text>
<line x1="55.15" y1="450" x2="55.15" y2="515.8" stroke="#222" stroke-width="1.25" />
<line x1="52.75" y1="515.3" x2="60.949999999999996" y2="515.3" stroke="#222" stroke-width="1.25" />
<line x1="63.65" y1="515.3" x2="121.35" y2="515.3" stroke="#222" stroke-width="1.25" />
<line x1="52.25" y1="515.3" x2="55.15" y2="515.3" stroke="#222" stroke-width="1.1" />
<text x="50.949999999999996" y="519.1999999999999" font-size="11.6" fill="#111" stroke="#111" stroke-width="0.23" text-anchor="end" font-weight="normal" >0</text>
<line x1="52.25" y1="490.29999999999995" x2="55.15" y2="490.29999999999995" stroke="#222" stroke-width="1.1" />
<text x="50.949999999999996" y="494.19999999999993" font-size="11.6" fill="#111" stroke="#111" stroke-width="0.23" text-anchor="end" font-weight="normal" >5</text>
<line x1="52.25" y1="465.29999999999995" x2="55.15" y2="465.29999999999995" stroke="#222" stroke-width="1.1" />
<text x="50.949999999999996" y="469.19999999999993" font-size="11.6" fill="#111" stroke="#111" stroke-width="0.23" text-anchor="end" font-weight="normal" >10</text>
<line x1="55.15" y1="515.3" x2="55.15" y2="519.0" stroke="#222" stroke-width="1.1" />
<line x1="70.4" y1="515.3" x2="70.4" y2="519.0" stroke="#222" stroke-width="1.1" />
<line x1="85.9" y1="515.3" x2="85.9" y2="519.0" stroke="#222" stroke-width="1.1" />
<line x1="101.3" y1="515.3" x2="101.3" y2="519.0" stroke="#222" stroke-width="1.1" />
<line x1="116.7" y1="515.3" x2="116.7" y2="519.0" stroke="#222" stroke-width="1.1" />
<text x="53.25" y="528.3" font-size="11.2" fill="#111" stroke="#111" stroke-width="0.22" text-anchor="middle" font-weight="normal" >0</text>
<text x="84.9" y="528.3" font-size="11.2" fill="#111" stroke="#111" stroke-width="0.22" text-anchor="middle" font-weight="normal" >-5</text>
<text x="115.7" y="528.3" font-size="11.2" fill="#111" stroke="#111" stroke-width="0.22" text-anchor="middle" font-weight="normal" >-4</text>
<text x="61.0" y="460.4" font-size="13.5" fill="#111" stroke="#111" stroke-width="0.27" text-anchor="start" font-weight="normal" >ABX</text>
<polyline points="55.15,510.4 70.4,510.6 85.9,511.3 101.3,511.3 116.7,511.3" fill="none" stroke="#a7a9ac" stroke-width="1.1"/>
<circle cx="70.4" cy="510.6" r="2.5" fill="#a7a9ac"/>
<circle cx="85.9" cy="511.3" r="2.5" fill="#a7a9ac"/>
<circle cx="101.3" cy="511.3" r="2.5" fill="#a7a9ac"/>
<circle cx="116.7" cy="511.3" r="2.5" fill="#a7a9ac"/>
<path d="M55.15,510.3 L60.949999999999996,509.8" fill="none" stroke="#e0662b" stroke-width="1.1"/>
<path d="M63.8,509.3 C64.9,509.1 68.0,508.6 70.4,507.9 C72.8,507.2 75.4,506.2 78.0,505.0 C80.6,503.8 83.3,502.3 85.9,500.5 C88.5,498.7 90.9,496.7 93.5,494.3 C96.1,491.9 98.7,489.6 101.3,486.3 C103.9,483.1 106.4,479.1 109.0,474.8 C111.6,470.6 115.4,463.1 116.7,460.8" fill="none" stroke="#e0662b" stroke-width="1.15"/>
<circle cx="55.15" cy="510.5" r="2.6" fill="#e0662b"/>
<circle cx="70.4" cy="509.4" r="2.6" fill="#e0662b"/>
<rect x="83.4" y="492.3" width="5" height="5" fill="#e0662b"/>
<line x1="101.3" y1="482.4" x2="101.3" y2="493.7" stroke="#e0662b" stroke-width="1.0" />
<line x1="98.8" y1="482.4" x2="103.8" y2="482.4" stroke="#e0662b" stroke-width="1.0" />
<line x1="98.8" y1="493.7" x2="103.8" y2="493.7" stroke="#e0662b" stroke-width="1.0" />
<circle cx="101.3" cy="488.6" r="2.6" fill="#e0662b"/>
<line x1="116.7" y1="452.3" x2="116.7" y2="465" stroke="#e0662b" stroke-width="1.0" />
<line x1="114.2" y1="452.3" x2="119.2" y2="452.3" stroke="#e0662b" stroke-width="1.0" />
<line x1="114.2" y1="465" x2="119.2" y2="465" stroke="#e0662b" stroke-width="1.0" />
<circle cx="116.7" cy="458.8" r="2.6" fill="#e0662b"/>
<line x1="150.8" y1="450" x2="150.8" y2="515.8" stroke="#222" stroke-width="1.25" />
<line x1="148.4" y1="515.3" x2="156.60000000000002" y2="515.3" stroke="#222" stroke-width="1.25" />
<line x1="159.3" y1="515.3" x2="217.0" y2="515.3" stroke="#222" stroke-width="1.25" />
<line x1="147.9" y1="515.3" x2="150.8" y2="515.3" stroke="#222" stroke-width="1.1" />
<text x="146.60000000000002" y="519.1999999999999" font-size="11.6" fill="#111" stroke="#111" stroke-width="0.23" text-anchor="end" font-weight="normal" >0</text>
<line x1="147.9" y1="490.29999999999995" x2="150.8" y2="490.29999999999995" stroke="#222" stroke-width="1.1" />
<text x="146.60000000000002" y="494.19999999999993" font-size="11.6" fill="#111" stroke="#111" stroke-width="0.23" text-anchor="end" font-weight="normal" >5</text>
<line x1="147.9" y1="465.29999999999995" x2="150.8" y2="465.29999999999995" stroke="#222" stroke-width="1.1" />
<text x="146.60000000000002" y="469.19999999999993" font-size="11.6" fill="#111" stroke="#111" stroke-width="0.23" text-anchor="end" font-weight="normal" >10</text>
<line x1="150.8" y1="515.3" x2="150.8" y2="519.0" stroke="#222" stroke-width="1.1" />
<line x1="166.3" y1="515.3" x2="166.3" y2="519.0" stroke="#222" stroke-width="1.1" />
<line x1="181.7" y1="515.3" x2="181.7" y2="519.0" stroke="#222" stroke-width="1.1" />
<line x1="197.1" y1="515.3" x2="197.1" y2="519.0" stroke="#222" stroke-width="1.1" />
<line x1="212.9" y1="515.3" x2="212.9" y2="519.0" stroke="#222" stroke-width="1.1" />
<text x="148.9" y="528.3" font-size="11.2" fill="#111" stroke="#111" stroke-width="0.22" text-anchor="middle" font-weight="normal" >0</text>
<text x="180.7" y="528.3" font-size="11.2" fill="#111" stroke="#111" stroke-width="0.22" text-anchor="middle" font-weight="normal" >-5</text>
<text x="211.9" y="528.3" font-size="11.2" fill="#111" stroke="#111" stroke-width="0.22" text-anchor="middle" font-weight="normal" >-4</text>
<text x="155.6" y="460.4" font-size="13.5" fill="#111" stroke="#111" stroke-width="0.27" text-anchor="start" font-weight="normal" >ABXP</text>
<polyline points="150.8,510.3 166.3,510.4 181.7,510.7 197.1,511.5 212.9,511.5" fill="none" stroke="#a7a9ac" stroke-width="1.1"/>
<circle cx="166.3" cy="510.4" r="2.5" fill="#a7a9ac"/>
<circle cx="181.7" cy="510.7" r="2.5" fill="#a7a9ac"/>
<circle cx="197.1" cy="511.5" r="2.5" fill="#a7a9ac"/>
<circle cx="212.9" cy="511.5" r="2.5" fill="#a7a9ac"/>
<path d="M150.8,510.8 L156.60000000000002,510.3" fill="none" stroke="#18a07a" stroke-width="1.1"/>
<path d="M159.9,510.3 C161.0,510.1 164.0,509.7 166.3,509.1 C168.7,508.5 171.4,507.6 174.0,506.5 C176.6,505.4 179.1,504.2 181.7,502.5 C184.3,500.8 186.8,498.7 189.4,496.5 C192.0,494.3 194.5,491.8 197.1,489.4 C199.7,486.9 202.4,484.2 205.0,481.8 C207.6,479.4 211.6,475.9 212.9,474.7" fill="none" stroke="#18a07a" stroke-width="1.15"/>
<circle cx="150.8" cy="510.5" r="2.6" fill="#1e8c60"/>
<circle cx="166.3" cy="511.0" r="2.6" fill="#1e8c60"/>
<circle cx="181.7" cy="498.3" r="2.6" fill="#1e8c60"/>
<line x1="197.1" y1="480.4" x2="197.1" y2="496.3" stroke="#1e8c60" stroke-width="1.0" />
<line x1="194.6" y1="480.4" x2="199.6" y2="480.4" stroke="#1e8c60" stroke-width="1.0" />
<line x1="194.6" y1="496.3" x2="199.6" y2="496.3" stroke="#1e8c60" stroke-width="1.0" />
<circle cx="197.1" cy="488.6" r="2.6" fill="#1e8c60"/>
<line x1="212.9" y1="460" x2="212.9" y2="485.8" stroke="#1e8c60" stroke-width="1.0" />
<line x1="210.4" y1="460" x2="215.4" y2="460" stroke="#1e8c60" stroke-width="1.0" />
<line x1="210.4" y1="485.8" x2="215.4" y2="485.8" stroke="#1e8c60" stroke-width="1.0" />
<circle cx="212.9" cy="473.2" r="2.6" fill="#1e8c60"/>
<line x1="55.15" y1="540.4" x2="55.15" y2="606.6" stroke="#222" stroke-width="1.25" />
<line x1="52.75" y1="606.1" x2="60.949999999999996" y2="606.1" stroke="#222" stroke-width="1.25" />
<line x1="63.65" y1="606.1" x2="121.35" y2="606.1" stroke="#222" stroke-width="1.25" />
<line x1="52.25" y1="606.1" x2="55.15" y2="606.1" stroke="#222" stroke-width="1.1" />
<text x="50.949999999999996" y="610.0" font-size="11.6" fill="#111" stroke="#111" stroke-width="0.23" text-anchor="end" font-weight="normal" >0</text>
<line x1="52.25" y1="581.1" x2="55.15" y2="581.1" stroke="#222" stroke-width="1.1" />
<text x="50.949999999999996" y="585.0" font-size="11.6" fill="#111" stroke="#111" stroke-width="0.23" text-anchor="end" font-weight="normal" >5</text>
<line x1="52.25" y1="556.1" x2="55.15" y2="556.1" stroke="#222" stroke-width="1.1" />
<text x="50.949999999999996" y="560.0" font-size="11.6" fill="#111" stroke="#111" stroke-width="0.23" text-anchor="end" font-weight="normal" >10</text>
<line x1="55.15" y1="606.1" x2="55.15" y2="609.8000000000001" stroke="#222" stroke-width="1.1" />
<line x1="70.4" y1="606.1" x2="70.4" y2="609.8000000000001" stroke="#222" stroke-width="1.1" />
<line x1="85.9" y1="606.1" x2="85.9" y2="609.8000000000001" stroke="#222" stroke-width="1.1" />
<line x1="101.3" y1="606.1" x2="101.3" y2="609.8000000000001" stroke="#222" stroke-width="1.1" />
<line x1="116.7" y1="606.1" x2="116.7" y2="609.8000000000001" stroke="#222" stroke-width="1.1" />
<text x="53.25" y="619.1" font-size="11.2" fill="#111" stroke="#111" stroke-width="0.22" text-anchor="middle" font-weight="normal" >0</text>
<text x="84.9" y="619.1" font-size="11.2" fill="#111" stroke="#111" stroke-width="0.22" text-anchor="middle" font-weight="normal" >-5</text>
<text x="115.7" y="619.1" font-size="11.2" fill="#111" stroke="#111" stroke-width="0.22" text-anchor="middle" font-weight="normal" >-4</text>
<text x="61.0" y="551.2" font-size="13.5" fill="#111" stroke="#111" stroke-width="0.27" text-anchor="start" font-weight="normal" >ABS</text>
<polyline points="55.15,601.2 70.4,601.4 85.9,601.7 101.3,602.6 116.7,602.6" fill="none" stroke="#a7a9ac" stroke-width="1.1"/>
<circle cx="70.4" cy="601.4" r="2.5" fill="#a7a9ac"/>
<circle cx="85.9" cy="601.7" r="2.5" fill="#a7a9ac"/>
<circle cx="101.3" cy="602.6" r="2.5" fill="#a7a9ac"/>
<circle cx="116.7" cy="602.6" r="2.5" fill="#a7a9ac"/>
<path d="M55.15,602.0 L60.949999999999996,601.5" fill="none" stroke="#5b6bb5" stroke-width="1.1"/>
<path d="M63.8,600.6 C64.9,600.3 68.0,600.1 70.4,599.0 C72.8,597.9 75.4,595.9 78.0,594.0 C80.6,592.1 83.3,589.8 85.9,587.5 C88.5,585.2 90.9,582.7 93.5,580.5 C96.1,578.3 98.7,576.1 101.3,574.4 C103.9,572.7 106.4,571.4 109.0,570.2 C111.6,569.0 115.4,567.9 116.7,567.4" fill="none" stroke="#5b6bb5" stroke-width="1.15"/>
<circle cx="55.15" cy="601.4" r="2.6" fill="#3c54a0"/>
<circle cx="70.4" cy="601.8" r="2.6" fill="#3c54a0"/>
<circle cx="85.9" cy="579.4" r="2.6" fill="#3c54a0"/>
<line x1="101.3" y1="574.4" x2="101.3" y2="581.3" stroke="#3c54a0" stroke-width="1.0" />
<line x1="98.8" y1="574.4" x2="103.8" y2="574.4" stroke="#3c54a0" stroke-width="1.0" />
<line x1="98.8" y1="581.3" x2="103.8" y2="581.3" stroke="#3c54a0" stroke-width="1.0" />
<circle cx="101.3" cy="577.9" r="2.6" fill="#3c54a0"/>
<line x1="116.7" y1="561.5" x2="116.7" y2="570.5" stroke="#3c54a0" stroke-width="1.0" />
<line x1="114.2" y1="561.5" x2="119.2" y2="561.5" stroke="#3c54a0" stroke-width="1.0" />
<line x1="114.2" y1="570.5" x2="119.2" y2="570.5" stroke="#3c54a0" stroke-width="1.0" />
<circle cx="116.7" cy="566.2" r="2.6" fill="#3c54a0"/>
<line x1="150.8" y1="541.2" x2="150.8" y2="607.5" stroke="#222" stroke-width="1.25" />
<line x1="148.4" y1="607" x2="156.60000000000002" y2="607" stroke="#222" stroke-width="1.25" />
<line x1="159.3" y1="607" x2="217.0" y2="607" stroke="#222" stroke-width="1.25" />
<line x1="147.9" y1="607.0" x2="150.8" y2="607.0" stroke="#222" stroke-width="1.1" />
<text x="146.60000000000002" y="610.9" font-size="11.6" fill="#111" stroke="#111" stroke-width="0.23" text-anchor="end" font-weight="normal" >0</text>
<line x1="147.9" y1="582.0" x2="150.8" y2="582.0" stroke="#222" stroke-width="1.1" />
<text x="146.60000000000002" y="585.9" font-size="11.6" fill="#111" stroke="#111" stroke-width="0.23" text-anchor="end" font-weight="normal" >5</text>
<line x1="147.9" y1="557.0" x2="150.8" y2="557.0" stroke="#222" stroke-width="1.1" />
<text x="146.60000000000002" y="560.9" font-size="11.6" fill="#111" stroke="#111" stroke-width="0.23" text-anchor="end" font-weight="normal" >10</text>
<line x1="150.8" y1="607" x2="150.8" y2="610.7" stroke="#222" stroke-width="1.1" />
<line x1="166.3" y1="607" x2="166.3" y2="610.7" stroke="#222" stroke-width="1.1" />
<line x1="181.7" y1="607" x2="181.7" y2="610.7" stroke="#222" stroke-width="1.1" />
<line x1="197.1" y1="607" x2="197.1" y2="610.7" stroke="#222" stroke-width="1.1" />
<line x1="212.9" y1="607" x2="212.9" y2="610.7" stroke="#222" stroke-width="1.1" />
<text x="148.9" y="620.0" font-size="11.2" fill="#111" stroke="#111" stroke-width="0.22" text-anchor="middle" font-weight="normal" >0</text>
<text x="180.7" y="620.0" font-size="11.2" fill="#111" stroke="#111" stroke-width="0.22" text-anchor="middle" font-weight="normal" >-5</text>
<text x="211.9" y="620.0" font-size="11.2" fill="#111" stroke="#111" stroke-width="0.22" text-anchor="middle" font-weight="normal" >-4</text>
<text x="155.9" y="552.1" font-size="13.5" fill="#111" stroke="#111" stroke-width="0.27" text-anchor="start" font-weight="normal" >CTLX</text>
<polyline points="150.8,601.5 166.3,600.6 181.7,601.7 197.1,602.9 212.9,603.4" fill="none" stroke="#a7a9ac" stroke-width="1.1"/>
<circle cx="166.3" cy="600.6" r="2.5" fill="#a7a9ac"/>
<circle cx="181.7" cy="601.7" r="2.5" fill="#a7a9ac"/>
<circle cx="197.1" cy="602.9" r="2.5" fill="#a7a9ac"/>
<circle cx="212.9" cy="603.4" r="2.5" fill="#a7a9ac"/>
<path d="M150.8,603.0 L156.60000000000002,602.5" fill="none" stroke="#e0458a" stroke-width="1.1"/>
<path d="M159.9,601.7 C161.0,601.4 164.0,600.8 166.3,599.8 C168.7,598.8 171.4,597.2 174.0,595.8 C176.6,594.4 179.1,592.8 181.7,591.3 C184.3,589.8 186.8,588.2 189.4,586.8 C192.0,585.4 194.5,584.0 197.1,582.8 C199.7,581.6 202.4,580.6 205.0,579.7 C207.6,578.8 211.6,577.8 212.9,577.4" fill="none" stroke="#e0458a" stroke-width="1.15"/>
<circle cx="150.8" cy="602.1" r="2.6" fill="#c21f6b"/>
<circle cx="166.3" cy="602.6" r="2.6" fill="#c21f6b"/>
<line x1="181.7" y1="581.3" x2="181.7" y2="587.9" stroke="#c21f6b" stroke-width="1.0" />
<line x1="179.2" y1="581.3" x2="184.2" y2="581.3" stroke="#c21f6b" stroke-width="1.0" />
<line x1="179.2" y1="587.9" x2="184.2" y2="587.9" stroke="#c21f6b" stroke-width="1.0" />
<circle cx="181.7" cy="584.7" r="2.6" fill="#c21f6b"/>
<line x1="197.1" y1="584" x2="197.1" y2="589.3" stroke="#c21f6b" stroke-width="1.0" />
<line x1="194.6" y1="584" x2="199.6" y2="584" stroke="#c21f6b" stroke-width="1.0" />
<line x1="194.6" y1="589.3" x2="199.6" y2="589.3" stroke="#c21f6b" stroke-width="1.0" />
<circle cx="197.1" cy="586.7" r="2.6" fill="#c21f6b"/>
<line x1="212.9" y1="571.3" x2="212.9" y2="580.2" stroke="#c21f6b" stroke-width="1.0" />
<line x1="210.4" y1="571.3" x2="215.4" y2="571.3" stroke="#c21f6b" stroke-width="1.0" />
<line x1="210.4" y1="580.2" x2="215.4" y2="580.2" stroke="#c21f6b" stroke-width="1.0" />
<circle cx="212.9" cy="575.9" r="2.6" fill="#c21f6b"/>
<rect x="539.4" y="223.2" width="4.3" height="381.5" fill="#f6dedb"/>
<text x="536.9" y="216.5" font-size="15.2" fill="#3a2420" stroke="#3a2420" stroke-width="0.3" text-anchor="middle" font-weight="normal" >(-)-Ambroxide</text>
<text transform="translate(284.3,310) rotate(-90)" font-size="15.2" fill="#111" stroke="#111" stroke-width="0.3" text-anchor="middle">Count</text>
<text transform="translate(284.3,528.5) rotate(-90)" font-size="15.2" fill="#111" stroke="#111" stroke-width="0.3" text-anchor="middle">Count</text>
<text x="290.3" y="227.3" font-size="11.2" fill="#3a2420" stroke="#3a2420" stroke-width="0.22" text-anchor="start" font-weight="normal" letter-spacing="0.25">(×10<tspan font-size="7" dy="-3.6">6</tspan><tspan dy="3.6">)</tspan></text>
<text x="290.3" y="436.1" font-size="11.2" fill="#3a2420" stroke="#3a2420" stroke-width="0.22" text-anchor="start" font-weight="normal" letter-spacing="0.25">(×10<tspan font-size="7" dy="-3.6">3</tspan><tspan dy="3.6">)</tspan></text>
<line x1="311.7" y1="232.35000000000002" x2="311.7" y2="258.85" stroke="#1a1a1a" stroke-width="1.15" />
<line x1="309.2" y1="234.3" x2="311.7" y2="234.3" stroke="#1a1a1a" stroke-width="1.0" />
<text x="307.3" y="239.3" font-size="10.8" fill="#3a2420" stroke="#3a2420" stroke-width="0.21" text-anchor="end" font-weight="normal" >10</text>
<line x1="309.2" y1="246.25000000000003" x2="311.7" y2="246.25000000000003" stroke="#1a1a1a" stroke-width="1.0" />
<text x="307.3" y="251.15000000000003" font-size="10.8" fill="#3a2420" stroke="#3a2420" stroke-width="0.21" text-anchor="end" font-weight="normal" >5</text>
<line x1="309.2" y1="257.35" x2="311.7" y2="257.35" stroke="#1a1a1a" stroke-width="1.0" />
<text x="307.3" y="262.15000000000003" font-size="10.8" fill="#3a2420" stroke="#3a2420" stroke-width="0.21" text-anchor="end" font-weight="normal" >0</text>
<text x="320.4" y="251.55" font-size="13.5" fill="#3a2420" stroke="#3a2420" stroke-width="0.27" text-anchor="start" font-weight="normal" >ABXP</text>
<line x1="319.2" y1="257.35" x2="676.9" y2="257.35" stroke="#3aa98a" stroke-width="1.0" />
<polyline points="540.1,257.35 540.5,257.35 541.6,228.1 542.3,257.35 542.7,257.35" fill="none" stroke="#1f9a78" stroke-width="1.05" stroke-linejoin="miter"/>
<line x1="311.7" y1="275.65000000000003" x2="311.7" y2="302.15000000000003" stroke="#1a1a1a" stroke-width="1.15" />
<line x1="309.2" y1="277.6" x2="311.7" y2="277.6" stroke="#1a1a1a" stroke-width="1.0" />
<text x="307.3" y="282.6" font-size="10.8" fill="#3a2420" stroke="#3a2420" stroke-width="0.21" text-anchor="end" font-weight="normal" >10</text>
<line x1="309.2" y1="289.55" x2="311.7" y2="289.55" stroke="#1a1a1a" stroke-width="1.0" />
<text x="307.3" y="294.45" font-size="10.8" fill="#3a2420" stroke="#3a2420" stroke-width="0.21" text-anchor="end" font-weight="normal" >5</text>
<line x1="309.2" y1="300.65000000000003" x2="311.7" y2="300.65000000000003" stroke="#1a1a1a" stroke-width="1.0" />
<text x="307.3" y="305.45000000000005" font-size="10.8" fill="#3a2420" stroke="#3a2420" stroke-width="0.21" text-anchor="end" font-weight="normal" >0</text>
<text x="323.6" y="294.85" font-size="13.5" fill="#3a2420" stroke="#3a2420" stroke-width="0.27" text-anchor="start" font-weight="normal" >ABX</text>
<line x1="319.2" y1="300.65000000000003" x2="676.9" y2="300.65000000000003" stroke="#e9a27d" stroke-width="1.5" />
<polyline points="540.1,300.65000000000003 540.5,300.65000000000003 541.6,271.4 542.3,300.65000000000003 542.7,300.65000000000003" fill="none" stroke="#dc7d4b" stroke-width="1.05" stroke-linejoin="miter"/>
<line x1="311.7" y1="318.95000000000005" x2="311.7" y2="345.45000000000005" stroke="#1a1a1a" stroke-width="1.15" />
<line x1="309.2" y1="320.90000000000003" x2="311.7" y2="320.90000000000003" stroke="#1a1a1a" stroke-width="1.0" />
<text x="307.3" y="325.90000000000003" font-size="10.8" fill="#3a2420" stroke="#3a2420" stroke-width="0.21" text-anchor="end" font-weight="normal" >10</text>
<line x1="309.2" y1="332.85" x2="311.7" y2="332.85" stroke="#1a1a1a" stroke-width="1.0" />
<text x="307.3" y="337.75" font-size="10.8" fill="#3a2420" stroke="#3a2420" stroke-width="0.21" text-anchor="end" font-weight="normal" >5</text>
<line x1="309.2" y1="343.95000000000005" x2="311.7" y2="343.95000000000005" stroke="#1a1a1a" stroke-width="1.0" />
<text x="307.3" y="348.75000000000006" font-size="10.8" fill="#3a2420" stroke="#3a2420" stroke-width="0.21" text-anchor="end" font-weight="normal" >0</text>
<text x="323.6" y="338.15000000000003" font-size="13.5" fill="#3a2420" stroke="#3a2420" stroke-width="0.27" text-anchor="start" font-weight="normal" >ABS</text>
<line x1="319.2" y1="343.95000000000005" x2="676.9" y2="343.95000000000005" stroke="#8f90c8" stroke-width="1.0" />
<polyline points="540.1,343.95000000000005 540.5,343.95000000000005 541.6,314.7 542.3,343.95000000000005 542.7,343.95000000000005" fill="none" stroke="#7478bd" stroke-width="1.05" stroke-linejoin="miter"/>
<line x1="311.7" y1="362.25" x2="311.7" y2="388.45" stroke="#1a1a1a" stroke-width="1.15" />
<line x1="309.2" y1="364.2" x2="311.7" y2="364.2" stroke="#1a1a1a" stroke-width="1.0" />
<text x="307.3" y="369.2" font-size="10.8" fill="#3a2420" stroke="#3a2420" stroke-width="0.21" text-anchor="end" font-weight="normal" >10</text>
<line x1="309.2" y1="376.15" x2="311.7" y2="376.15" stroke="#1a1a1a" stroke-width="1.0" />
<text x="307.3" y="381.04999999999995" font-size="10.8" fill="#3a2420" stroke="#3a2420" stroke-width="0.21" text-anchor="end" font-weight="normal" >5</text>
<line x1="309.2" y1="387.25" x2="311.7" y2="387.25" stroke="#1a1a1a" stroke-width="1.0" />
<text x="307.3" y="392.05" font-size="10.8" fill="#3a2420" stroke="#3a2420" stroke-width="0.21" text-anchor="end" font-weight="normal" >0</text>
<text x="321.2" y="382.55" font-size="13.5" fill="#3a2420" stroke="#3a2420" stroke-width="0.27" text-anchor="start" font-weight="normal" >CTLX</text>
<line x1="319.2" y1="387.25" x2="676.9" y2="387.25" stroke="#e2408c" stroke-width="1.5" />
<polyline points="540.1,387.25 540.5,387.25 541.6,357.9 542.3,387.25 542.7,387.25" fill="none" stroke="#e02a80" stroke-width="1.05" stroke-linejoin="miter"/>
<line x1="310.6" y1="388.4" x2="685" y2="388.4" stroke="#222" stroke-width="1.2" />
<line x1="329.2" y1="388.4" x2="329.2" y2="391.6" stroke="#222" stroke-width="1.0" />
<text x="328.6" y="405.6" font-size="13.5" fill="#111" stroke="#111" stroke-width="0.27" text-anchor="middle" font-weight="normal" >5</text>
<line x1="356.6" y1="388.4" x2="356.6" y2="391.6" stroke="#222" stroke-width="1.0" />
<text x="357.3" y="405.6" font-size="13.5" fill="#111" stroke="#111" stroke-width="0.27" text-anchor="middle" font-weight="normal" >10</text>
<line x1="394.7" y1="388.4" x2="394.7" y2="391.6" stroke="#222" stroke-width="1.0" />
<text x="395.5" y="405.6" font-size="13.5" fill="#111" stroke="#111" stroke-width="0.27" text-anchor="middle" font-weight="normal" >15</text>
<line x1="432.9" y1="388.4" x2="432.9" y2="391.6" stroke="#222" stroke-width="1.0" />
<text x="433.5" y="405.6" font-size="13.5" fill="#111" stroke="#111" stroke-width="0.27" text-anchor="middle" font-weight="normal" >20</text>
<line x1="471.1" y1="388.4" x2="471.1" y2="391.6" stroke="#222" stroke-width="1.0" />
<text x="471.70000000000005" y="405.6" font-size="13.5" fill="#111" stroke="#111" stroke-width="0.27" text-anchor="middle" font-weight="normal" >25</text>
<line x1="509.29999999999995" y1="388.4" x2="509.29999999999995" y2="391.6" stroke="#222" stroke-width="1.0" />
<text x="509.9" y="405.6" font-size="13.5" fill="#111" stroke="#111" stroke-width="0.27" text-anchor="middle" font-weight="normal" >30</text>
<line x1="547.5" y1="388.4" x2="547.5" y2="391.6" stroke="#222" stroke-width="1.0" />
<text x="548.1" y="405.6" font-size="13.5" fill="#111" stroke="#111" stroke-width="0.27" text-anchor="middle" font-weight="normal" >35</text>
<line x1="585.7" y1="388.4" x2="585.7" y2="391.6" stroke="#222" stroke-width="1.0" />
<text x="586.3000000000001" y="405.6" font-size="13.5" fill="#111" stroke="#111" stroke-width="0.27" text-anchor="middle" font-weight="normal" >40</text>
<line x1="623.9" y1="388.4" x2="623.9" y2="391.6" stroke="#222" stroke-width="1.0" />
<text x="624.5" y="405.6" font-size="13.5" fill="#111" stroke="#111" stroke-width="0.27" text-anchor="middle" font-weight="normal" >45</text>
<line x1="662.0999999999999" y1="388.4" x2="662.0999999999999" y2="391.6" stroke="#222" stroke-width="1.0" />
<text x="662.6999999999999" y="405.6" font-size="13.5" fill="#111" stroke="#111" stroke-width="0.27" text-anchor="middle" font-weight="normal" >50</text>
<line x1="311.7" y1="442.7" x2="311.7" y2="476.8" stroke="#1a1a1a" stroke-width="1.15" />
<line x1="309.2" y1="443.09999999999997" x2="311.7" y2="443.09999999999997" stroke="#1a1a1a" stroke-width="1.0" />
<text x="307.3" y="448.3" font-size="10.8" fill="#3a2420" stroke="#3a2420" stroke-width="0.21" text-anchor="end" font-weight="normal" >10</text>
<line x1="309.2" y1="459.2" x2="311.7" y2="459.2" stroke="#1a1a1a" stroke-width="1.0" />
<text x="307.3" y="464.2" font-size="10.8" fill="#3a2420" stroke="#3a2420" stroke-width="0.21" text-anchor="end" font-weight="normal" >5</text>
<line x1="309.2" y1="476.2" x2="311.7" y2="476.2" stroke="#1a1a1a" stroke-width="1.0" />
<text x="307.3" y="480.09999999999997" font-size="10.8" fill="#3a2420" stroke="#3a2420" stroke-width="0.21" text-anchor="end" font-weight="normal" >0</text>
<text x="322.4" y="470.4" font-size="13.5" fill="#3a2420" stroke="#3a2420" stroke-width="0.27" text-anchor="start" font-weight="normal" >ABXP</text>
<clipPath id="tc1"><rect x="310" y="441.1" width="375" height="38.1"/></clipPath>
<polyline points="319.20,476.20 539.70,476.20 539.80,450.39 539.90,424.59 540.00,398.78 540.10,372.97 540.20,347.17 540.30,321.36 540.40,295.55 540.50,269.75 540.60,243.94 540.70,218.14 540.80,192.33 540.90,166.52 541.00,140.72 541.10,114.91 541.20,89.10 541.25,76.20 541.30,89.10 541.40,114.91 541.50,140.72 541.60,166.52 541.70,192.33 541.80,218.14 541.90,243.94 542.00,269.75 542.10,295.55 542.20,321.36 542.30,347.17 542.40,372.97 542.50,398.78 542.60,424.59 542.70,450.39 542.80,471.24 542.90,471.61 543.00,471.95 543.10,472.26 543.20,472.55 543.30,472.82 543.40,473.07 543.50,473.31 543.60,473.52 543.70,473.72 543.80,473.90 543.90,474.07 544.00,474.23 544.10,474.38 544.20,474.51 544.30,474.64 544.40,474.75 544.50,474.86 544.60,474.96 544.70,475.05 544.80,475.14 544.90,475.21 545.00,475.29 545.10,475.35 545.20,475.42 545.30,475.48 545.40,475.53 545.50,475.58 545.60,475.62 545.70,475.67 545.80,475.71 545.90,475.74 546.00,475.78 546.10,475.81 546.20,475.84 546.30,475.86 546.40,475.89 546.50,475.91 546.60,475.93 546.70,475.95 546.80,475.97 546.90,475.99 547.00,476.00 547.10,476.02 547.20,476.03 547.30,476.04 547.40,476.06 547.50,476.07 547.70,476.09 547.90,476.10 548.10,476.12 548.30,476.13 548.50,476.14 548.80,476.15 549.10,476.16 549.50,476.17 550.10,476.18 551.20,476.19 621.10,476.18 621.70,476.17 622.30,476.16 622.90,476.15 623.50,476.14 624.10,476.13 624.70,476.12 625.30,476.11 625.90,476.10 626.50,476.09 627.10,476.08 627.70,476.06 628.30,476.05 628.90,476.04 629.50,476.03 630.10,476.02 630.70,476.01 631.30,476.00 631.90,475.99 632.50,475.98 633.10,475.97 633.70,475.96 634.30,475.95 634.90,475.94 635.50,475.93 636.10,475.92 636.70,475.91 637.30,475.90 637.90,475.89 638.50,475.88 639.10,475.86 639.70,475.85 640.30,475.84 640.90,475.83 641.50,475.82 642.10,475.81 642.70,475.80 643.30,475.79 643.90,475.78 644.50,475.77 645.10,475.76 645.70,475.75 646.30,475.74 646.90,475.73 647.50,475.72 648.10,475.71 648.70,475.70 649.30,475.69 649.90,475.68 650.50,475.66 651.10,475.65 651.70,475.64 652.30,475.63 652.90,475.62 653.50,475.61 654.10,475.60 654.70,475.59 655.30,475.58 655.90,475.57 656.50,475.56 657.10,475.55 657.70,475.54 658.30,475.53 658.90,475.52 659.50,475.51 660.10,475.50 660.70,475.49 661.30,475.48 661.90,475.46 662.50,475.45 663.10,475.44 663.70,475.43 664.30,475.42 664.90,475.41 665.50,475.40 666.10,475.39 666.70,475.38 667.30,475.37 667.90,475.36 668.50,475.35 669.10,475.34 669.70,475.33 670.30,475.32 670.90,475.31 671.50,475.30 672.10,475.29 672.70,475.28 673.30,475.26 673.90,475.25 674.50,475.24 675.10,475.23 675.70,475.22 676.30,475.21 676.90,475.20" fill="none" stroke="#2fa283" stroke-width="1.0" stroke-linejoin="round" clip-path="url(#tc1)"/>
<line x1="311.7" y1="484.4" x2="311.7" y2="519.5" stroke="#1a1a1a" stroke-width="1.15" />
<line x1="309.2" y1="484.79999999999995" x2="311.7" y2="484.79999999999995" stroke="#1a1a1a" stroke-width="1.0" />
<text x="307.3" y="490.0" font-size="10.8" fill="#3a2420" stroke="#3a2420" stroke-width="0.21" text-anchor="end" font-weight="normal" >10</text>
<line x1="309.2" y1="501.9" x2="311.7" y2="501.9" stroke="#1a1a1a" stroke-width="1.0" />
<text x="307.3" y="506.9" font-size="10.8" fill="#3a2420" stroke="#3a2420" stroke-width="0.21" text-anchor="end" font-weight="normal" >5</text>
<line x1="309.2" y1="518.9" x2="311.7" y2="518.9" stroke="#1a1a1a" stroke-width="1.0" />
<text x="307.3" y="522.8" font-size="10.8" fill="#3a2420" stroke="#3a2420" stroke-width="0.21" text-anchor="end" font-weight="normal" >0</text>
<text x="324.8" y="511.70000000000005" font-size="13.5" fill="#3a2420" stroke="#3a2420" stroke-width="0.27" text-anchor="start" font-weight="normal" >ABX</text>
<clipPath id="tc2"><rect x="310" y="483.1" width="375" height="38.8"/></clipPath>
<polyline points="319.20,518.90 525.00,518.90 525.10,516.90 525.20,514.90 525.30,516.90 525.40,518.90 535.14,518.90 535.20,518.60 535.30,518.10 535.40,518.60 535.46,518.90 539.70,518.90 539.80,493.09 539.90,467.29 540.00,441.48 540.10,415.67 540.20,389.87 540.30,364.06 540.40,338.25 540.50,312.45 540.60,286.64 540.70,260.84 540.80,235.03 540.90,209.22 541.00,183.42 541.10,157.61 541.20,131.80 541.25,118.90 541.30,131.80 541.40,157.61 541.50,183.42 541.60,209.22 541.70,235.03 541.80,260.84 541.90,286.64 542.00,312.45 542.10,338.25 542.20,364.06 542.30,389.87 542.40,415.67 542.50,441.48 542.60,467.29 542.70,493.09 542.80,513.94 542.90,514.31 543.00,514.65 543.10,514.96 543.20,515.25 543.30,515.52 543.40,515.77 543.50,516.01 543.60,516.22 543.70,516.42 543.80,516.60 543.90,516.77 544.00,516.93 544.10,517.08 544.20,517.21 544.30,517.34 544.40,517.45 544.50,517.56 544.60,517.66 544.70,517.75 544.80,517.84 544.90,517.91 545.00,517.99 545.10,518.05 545.20,518.12 545.30,518.18 545.40,518.23 545.50,518.28 545.60,518.32 545.70,518.37 545.80,518.41 545.90,518.44 546.00,518.48 546.10,518.51 546.20,518.54 546.30,518.56 546.40,518.59 546.50,518.61 546.60,518.63 546.70,518.65 546.80,518.67 546.90,518.69 547.00,518.70 547.10,518.72 547.20,518.73 547.30,518.74 547.40,518.76 547.50,518.77 547.70,518.79 547.90,518.80 548.10,518.82 548.30,518.83 548.50,518.84 548.80,518.85 549.10,518.86 549.50,518.87 550.10,518.88 551.20,518.89 595.90,518.90 596.00,516.40 596.10,513.90 596.20,516.40 596.30,518.90 599.50,518.90 599.60,418.90 599.70,318.90 599.80,218.90 599.90,318.90 600.00,418.90 600.10,517.12 600.20,517.25 600.30,517.37 600.40,517.49 600.50,517.59 600.60,517.69 600.70,517.78 600.80,517.86 600.90,517.94 601.00,518.01 601.10,518.07 601.20,518.14 601.30,518.19 601.40,518.24 601.50,518.29 601.60,518.34 601.70,518.38 601.80,518.42 601.90,518.45 602.00,518.49 602.10,518.52 602.20,518.55 602.30,518.57 602.40,518.60 602.50,518.62 602.60,518.64 602.70,518.66 602.80,518.68 602.90,518.69 603.00,518.71 603.10,518.72 603.20,518.74 603.30,518.75 603.40,518.76 603.50,518.77 603.70,518.79 603.90,518.80 604.10,518.82 604.30,518.83 604.50,518.84 604.80,518.85 605.20,518.86 605.70,518.88 606.50,518.89 608.50,518.90 608.80,518.90 608.90,515.90 609.00,512.90 609.10,515.90 609.20,518.90 621.20,518.89 622.20,518.88 623.20,518.87 624.20,518.86 625.20,518.85 626.20,518.83 627.20,518.82 628.20,518.81 629.20,518.80 630.20,518.79 631.20,518.78 632.20,518.77 633.20,518.76 634.20,518.75 635.20,518.74 636.20,518.73 637.20,518.72 638.20,518.71 639.20,518.70 640.20,518.69 641.20,518.68 642.20,518.67 643.20,518.66 643.30,518.65 643.40,518.25 643.50,517.85 643.60,518.25 643.70,518.65 644.70,518.64 645.70,518.63 646.70,518.62 647.70,518.61 648.70,518.60 649.70,518.59 650.70,518.58 651.70,518.57 652.70,518.56 653.70,518.55 654.70,518.53 655.70,518.52 656.70,518.51 657.70,518.50 658.70,518.49 659.70,518.48 660.70,518.47 661.70,518.46 662.70,518.45 663.70,518.44 664.70,518.43 665.70,518.42 666.70,518.41 667.70,518.40 668.70,518.39 669.70,518.38 670.70,518.37 671.70,518.36 672.70,518.35 673.70,518.33 674.70,518.32 675.70,518.31 676.70,518.30 676.90,518.30" fill="none" stroke="#dc7d4b" stroke-width="1.0" stroke-linejoin="round" clip-path="url(#tc2)"/>
<line x1="311.7" y1="526.7" x2="311.7" y2="562.1" stroke="#1a1a1a" stroke-width="1.15" />
<line x1="309.2" y1="527.1" x2="311.7" y2="527.1" stroke="#1a1a1a" stroke-width="1.0" />
<text x="307.3" y="532.3000000000001" font-size="10.8" fill="#3a2420" stroke="#3a2420" stroke-width="0.21" text-anchor="end" font-weight="normal" >10</text>
<line x1="309.2" y1="544.5" x2="311.7" y2="544.5" stroke="#1a1a1a" stroke-width="1.0" />
<text x="307.3" y="549.5" font-size="10.8" fill="#3a2420" stroke="#3a2420" stroke-width="0.21" text-anchor="end" font-weight="normal" >5</text>
<line x1="309.2" y1="561.5" x2="311.7" y2="561.5" stroke="#1a1a1a" stroke-width="1.0" />
<text x="307.3" y="565.4" font-size="10.8" fill="#3a2420" stroke="#3a2420" stroke-width="0.21" text-anchor="end" font-weight="normal" >0</text>
<text x="324.8" y="555.7" font-size="13.5" fill="#3a2420" stroke="#3a2420" stroke-width="0.27" text-anchor="start" font-weight="normal" >ABS</text>
<clipPath id="tc3"><rect x="310" y="525.8" width="375" height="38.7"/></clipPath>
<polyline points="319.20,561.50 449.24,561.50 449.30,560.56 449.40,559.00 449.50,560.56 449.56,561.50 457.84,561.50 457.90,561.28 458.00,560.90 458.10,561.28 458.16,561.50 464.84,561.50 464.90,561.31 465.00,561.00 465.10,561.31 465.16,561.50 525.04,561.50 525.10,560.94 525.20,560.00 525.30,560.94 525.36,561.50 532.36,561.50 532.40,560.75 532.50,558.88 532.60,557.00 532.70,558.88 532.80,560.75 532.84,561.50 539.70,561.50 539.80,535.69 539.90,509.89 540.00,484.08 540.10,458.27 540.20,432.47 540.30,406.66 540.40,380.85 540.50,355.05 540.60,329.24 540.70,303.44 540.80,277.63 540.90,251.82 541.00,226.02 541.10,200.21 541.20,174.40 541.25,161.50 541.30,174.40 541.40,200.21 541.50,226.02 541.60,251.82 541.70,277.63 541.80,303.44 541.90,329.24 542.00,355.05 542.10,380.85 542.20,406.66 542.30,432.47 542.40,458.27 542.50,484.08 542.60,509.89 542.70,535.69 542.80,556.54 542.90,556.91 543.00,557.25 543.10,557.56 543.20,557.85 543.30,558.12 543.40,558.37 543.50,558.61 543.60,558.82 543.70,559.02 543.80,559.20 543.90,559.37 544.00,559.53 544.10,559.68 544.20,559.81 544.30,559.94 544.40,560.05 544.50,560.16 544.60,560.26 544.70,560.35 544.80,560.44 544.90,560.51 545.00,560.59 545.10,560.65 545.20,560.72 545.30,560.78 545.40,560.83 545.50,560.88 545.60,560.92 545.70,560.97 545.80,561.01 545.90,561.04 546.00,561.08 546.10,561.11 546.20,561.14 546.30,561.16 546.40,561.19 546.50,561.21 546.60,561.23 546.70,561.25 546.80,561.27 546.90,561.29 547.00,561.30 547.10,561.32 547.20,561.33 547.30,561.34 547.40,561.36 547.50,561.37 547.70,561.39 547.90,561.40 548.10,561.42 548.30,561.43 548.50,561.44 548.80,561.45 549.10,561.46 549.50,561.47 550.10,561.48 550.94,561.49 551.00,560.75 551.10,559.50 551.20,560.75 551.26,561.49 599.60,561.50 599.70,560.50 599.80,559.50 599.90,560.50 600.00,561.50 608.80,561.50 608.90,560.50 609.00,559.50 609.10,560.50 609.20,561.50 630.20,561.50 630.30,558.25 630.40,555.00 630.50,558.25 630.60,561.50 642.80,561.50 642.90,558.25 643.00,555.00 643.10,558.25 643.20,561.50 664.20,561.50 664.30,561.43 664.40,561.37 664.50,561.30 664.60,561.23 664.70,561.17 664.80,561.10 664.90,561.03 665.00,560.97 665.10,560.90 665.20,560.83 665.30,560.77 665.40,560.70 665.50,560.63 665.60,560.57 665.70,560.50 665.80,560.57 665.90,560.63 666.00,560.70 666.10,560.77 666.20,560.83 666.30,560.90 666.40,560.97 666.50,561.03 666.60,561.10 666.70,561.17 666.80,561.23 666.90,561.30 667.00,561.37 667.10,561.43 667.20,561.50 676.90,561.50" fill="none" stroke="#8589c6" stroke-width="1.0" stroke-linejoin="round" clip-path="url(#tc3)"/>
<line x1="311.7" y1="569.2" x2="311.7" y2="604.7" stroke="#1a1a1a" stroke-width="1.15" />
<line x1="309.2" y1="569.6" x2="311.7" y2="569.6" stroke="#1a1a1a" stroke-width="1.0" />
<text x="307.3" y="574.8000000000001" font-size="10.8" fill="#3a2420" stroke="#3a2420" stroke-width="0.21" text-anchor="end" font-weight="normal" >10</text>
<line x1="309.2" y1="587.1" x2="311.7" y2="587.1" stroke="#1a1a1a" stroke-width="1.0" />
<text x="307.3" y="592.1" font-size="10.8" fill="#3a2420" stroke="#3a2420" stroke-width="0.21" text-anchor="end" font-weight="normal" >5</text>
<line x1="309.2" y1="604.1" x2="311.7" y2="604.1" stroke="#1a1a1a" stroke-width="1.0" />
<text x="307.3" y="608.0" font-size="10.8" fill="#3a2420" stroke="#3a2420" stroke-width="0.21" text-anchor="end" font-weight="normal" >0</text>
<text x="321.8" y="599.4000000000001" font-size="13.5" fill="#3a2420" stroke="#3a2420" stroke-width="0.27" text-anchor="start" font-weight="normal" >CTLX</text>
<clipPath id="tc4"><rect x="310" y="568.8" width="375" height="38.1"/></clipPath>
<polyline points="319.20,603.90 449.34,603.90 449.40,603.45 449.50,602.70 449.60,603.45 449.66,603.90 525.26,603.90 525.30,603.00 525.40,600.75 525.50,598.50 525.60,600.75 525.70,603.00 525.74,603.90 532.20,603.90 532.30,600.65 532.40,597.40 532.50,600.65 532.60,603.90 533.55,603.90 533.60,576.63 533.70,522.08 533.80,467.54 533.90,412.99 534.00,358.45 534.10,303.90 534.20,358.45 534.30,412.99 534.40,467.54 534.50,522.08 534.60,576.63 534.65,603.90 539.90,603.90 540.00,580.82 540.10,557.75 540.20,534.67 540.30,511.59 540.40,488.52 540.50,465.44 540.60,442.36 540.70,419.28 540.80,396.21 540.90,373.13 541.00,350.05 541.10,326.98 541.20,303.90 541.30,326.98 541.40,350.05 541.50,373.13 541.60,396.21 541.70,419.28 541.80,442.36 541.90,465.44 542.00,488.52 542.10,511.59 542.20,534.67 542.30,557.75 542.40,580.82 542.50,601.47 542.60,601.65 542.70,601.82 542.80,601.97 542.90,602.12 543.00,602.25 543.10,602.37 543.20,602.48 543.30,602.59 543.40,602.69 543.50,602.78 543.60,602.86 543.70,602.94 543.80,603.01 543.90,603.07 544.00,603.13 544.10,603.19 544.20,603.24 544.30,603.29 544.35,603.32 544.40,576.63 544.50,522.08 544.60,467.54 544.70,412.99 544.80,358.45 544.90,303.90 545.00,358.45 545.10,412.99 545.20,467.54 545.30,522.08 545.40,576.63 545.45,598.23 545.50,598.45 545.60,598.85 545.70,599.23 545.80,599.57 545.90,599.89 546.00,600.19 546.10,600.46 546.20,600.72 546.30,600.95 546.40,601.17 546.50,601.37 546.60,601.56 546.70,601.73 546.80,601.89 546.84,601.96 546.90,602.04 547.00,601.40 547.10,602.31 547.16,602.38 547.20,602.43 547.30,602.53 547.40,602.64 547.50,602.73 547.60,602.82 547.70,602.90 547.80,602.97 547.90,603.04 548.00,603.10 548.10,603.16 548.20,603.22 548.30,603.27 548.40,603.31 548.50,603.36 548.60,603.40 548.70,603.43 548.80,603.47 548.90,603.50 549.00,603.53 549.10,603.56 549.20,603.58 549.30,603.61 549.40,603.63 549.50,603.65 549.60,603.67 549.70,603.68 549.80,603.70 549.90,603.72 550.00,603.73 550.10,603.74 550.20,603.75 550.30,603.76 550.40,603.77 550.60,603.79 550.80,603.81 551.00,603.82 551.14,603.83 551.20,602.77 551.30,600.90 551.40,602.78 551.46,603.84 551.80,603.86 552.20,603.87 552.70,603.88 552.84,603.88 552.90,603.34 553.00,602.40 553.10,603.34 553.16,603.88 554.60,603.90 590.60,603.90 590.70,603.30 590.80,602.70 590.90,602.10 591.00,601.50 591.10,600.90 591.20,600.30 591.30,599.70 591.40,599.10 591.50,598.50 591.60,597.90 591.70,598.50 591.80,599.10 591.90,599.70 592.00,600.30 592.10,600.90 592.20,601.50 592.30,602.10 592.40,602.70 592.50,603.30 592.60,603.90 595.60,603.90 595.70,601.90 595.80,599.90 595.90,601.90 596.00,603.90 599.56,603.90 599.60,603.32 599.70,601.86 599.80,600.40 599.90,601.86 600.00,603.32 600.04,603.90 604.50,603.90 604.60,603.83 604.70,603.77 604.80,603.70 604.90,603.63 605.00,603.57 605.10,603.50 605.20,603.43 605.30,603.37 605.40,603.30 605.50,603.23 605.60,603.17 605.70,603.10 605.80,603.03 605.90,602.97 606.00,602.90 606.10,602.97 606.20,603.03 606.30,603.10 606.40,603.17 606.50,603.23 606.60,603.30 606.70,603.37 606.80,603.43 606.90,603.50 607.00,603.57 607.10,603.63 607.20,603.70 607.30,603.77 607.40,603.83 607.50,603.90 609.36,603.90 609.40,601.73 609.50,596.32 609.60,590.90 609.70,596.32 609.80,601.73 609.84,603.90 627.60,603.90 627.70,602.65 627.80,601.40 627.90,602.65 628.00,603.90 630.36,603.90 630.40,603.23 630.50,601.57 630.60,599.90 630.70,601.57 630.80,603.23 630.84,603.90 640.82,603.90 640.90,601.04 641.00,597.47 641.10,593.90 641.20,597.47 641.30,601.04 641.38,603.90 643.30,603.90 643.40,602.40 643.50,600.90 643.60,602.40 643.70,603.90 663.70,603.90 663.80,603.83 663.90,603.77 664.00,603.70 664.10,603.63 664.20,603.57 664.30,603.50 664.40,603.43 664.50,603.37 664.60,603.30 664.70,603.23 664.80,603.17 664.90,603.10 665.00,603.03 665.10,602.97 665.20,602.90 665.30,602.97 665.40,603.03 665.50,603.10 665.60,603.17 665.70,603.23 665.80,603.30 665.90,603.37 666.00,603.43 666.10,603.50 666.20,603.57 666.30,603.63 666.40,603.70 666.50,603.77 666.60,603.83 666.70,603.90 676.90,603.90" fill="none" stroke="#e03a8a" stroke-width="1.3" stroke-linejoin="round" clip-path="url(#tc4)"/>
<line x1="310.6" y1="605.4" x2="685" y2="605.4" stroke="#222" stroke-width="1.2" />
<line x1="318.3" y1="605.4" x2="318.3" y2="608.4" stroke="#222" stroke-width="1.0" />
<text x="317.40000000000003" y="621.9" font-size="13.5" fill="#111" stroke="#111" stroke-width="0.27" text-anchor="middle" font-weight="normal" >5</text>
<line x1="356.5" y1="605.4" x2="356.5" y2="608.4" stroke="#222" stroke-width="1.0" />
<text x="357.2" y="621.9" font-size="13.5" fill="#111" stroke="#111" stroke-width="0.27" text-anchor="middle" font-weight="normal" >10</text>
<line x1="394.7" y1="605.4" x2="394.7" y2="608.4" stroke="#222" stroke-width="1.0" />
<text x="395.4" y="621.9" font-size="13.5" fill="#111" stroke="#111" stroke-width="0.27" text-anchor="middle" font-weight="normal" >15</text>
<line x1="432.9" y1="605.4" x2="432.9" y2="608.4" stroke="#222" stroke-width="1.0" />
<text x="433.59999999999997" y="621.9" font-size="13.5" fill="#111" stroke="#111" stroke-width="0.27" text-anchor="middle" font-weight="normal" >20</text>
<line x1="471.1" y1="605.4" x2="471.1" y2="608.4" stroke="#222" stroke-width="1.0" />
<text x="471.8" y="621.9" font-size="13.5" fill="#111" stroke="#111" stroke-width="0.27" text-anchor="middle" font-weight="normal" >25</text>
<line x1="509.29999999999995" y1="605.4" x2="509.29999999999995" y2="608.4" stroke="#222" stroke-width="1.0" />
<text x="509.99999999999994" y="621.9" font-size="13.5" fill="#111" stroke="#111" stroke-width="0.27" text-anchor="middle" font-weight="normal" >30</text>
<line x1="547.5" y1="605.4" x2="547.5" y2="608.4" stroke="#222" stroke-width="1.0" />
<text x="548.2" y="621.9" font-size="13.5" fill="#111" stroke="#111" stroke-width="0.27" text-anchor="middle" font-weight="normal" >35</text>
<line x1="585.7" y1="605.4" x2="585.7" y2="608.4" stroke="#222" stroke-width="1.0" />
<text x="586.4000000000001" y="621.9" font-size="13.5" fill="#111" stroke="#111" stroke-width="0.27" text-anchor="middle" font-weight="normal" >40</text>
<line x1="623.9" y1="605.4" x2="623.9" y2="608.4" stroke="#222" stroke-width="1.0" />
<text x="624.6" y="621.9" font-size="13.5" fill="#111" stroke="#111" stroke-width="0.27" text-anchor="middle" font-weight="normal" >45</text>
<line x1="662.0999999999999" y1="605.4" x2="662.0999999999999" y2="608.4" stroke="#222" stroke-width="1.0" />
<text x="662.8" y="621.9" font-size="13.5" fill="#111" stroke="#111" stroke-width="0.27" text-anchor="middle" font-weight="normal" >50</text>
<text x="509.3" y="644.5" font-size="15.2" fill="#111" stroke="#111" stroke-width="0.3" text-anchor="middle" font-weight="normal" textLength="130.6" lengthAdjust="spacingAndGlyphs" >Retention time (min)</text>
</svg>
</body></html>
